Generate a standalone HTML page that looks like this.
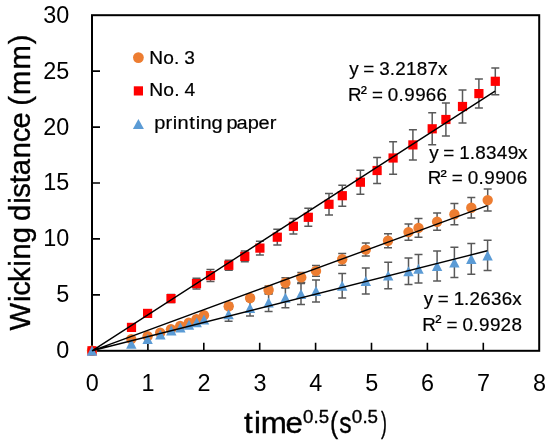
<!DOCTYPE html>
<html><head><meta charset="utf-8"><title>Wicking distance chart</title>
<style>html,body{margin:0;padding:0;background:#fff;}body{width:550px;height:443px;overflow:hidden;}svg{display:block;}</style>
</head><body><svg width="550" height="443" viewBox="0 0 550 443" font-family="'Liberation Sans', Arial, sans-serif" fill="#000"><path d="M147.9 350.8V342.8M203.8 350.8V342.8M259.7 350.8V342.8M315.6 350.8V342.8M371.5 350.8V342.8M427.4 350.8V342.8M483.3 350.8V342.8M92.0 294.9H100.0M92.0 238.9H100.0M92.0 183.0H100.0M92.0 127.1H100.0M92.0 71.1H100.0" stroke="#000" stroke-width="1.6" fill="none"/><rect x="92.0" y="15.2" width="447.2" height="335.6" fill="none" stroke="#000" stroke-width="2"/><path d="M228.7 303.2V309.2M224.7 303.2h8.0M224.7 309.2h8.0M250.1 295.0V301.0M246.1 295.0h8.0M246.1 301.0h8.0M268.6 286.0V294.0M264.6 286.0h8.0M264.6 294.0h8.0M285.4 277.8V287.8M281.4 277.8h8.0M281.4 287.8h8.0M301.3 272.4V282.4M297.3 272.4h8.0M297.3 282.4h8.0M316.0 265.6V276.2M312.0 265.6h8.0M312.0 276.2h8.0M342.2 253.5V265.2M338.2 253.5h8.0M338.2 265.2h8.0M365.8 243.1V256.1M361.8 243.1h8.0M361.8 256.1h8.0M388.0 233.8V247.8M384.0 233.8h8.0M384.0 247.8h8.0M408.5 223.9V240.3M404.5 223.9h8.0M404.5 240.3h8.0M418.5 218.6V237.2M414.5 218.6h8.0M414.5 237.2h8.0M437.1 213.1V230.3M433.1 213.1h8.0M433.1 230.3h8.0M454.4 203.6V224.8M450.4 203.6h8.0M450.4 224.8h8.0M471.3 197.5V218.1M467.3 197.5h8.0M467.3 218.1h8.0M487.7 189.1V211.1M483.7 189.1h8.0M483.7 211.1h8.0" stroke="#595959" stroke-width="1.5" fill="none"/><path d="M131.5 324.4V330.4M127.5 324.4h8.0M127.5 330.4h8.0M147.6 310.4V316.4M143.6 310.4h8.0M143.6 316.4h8.0M171.0 294.6V302.6M167.0 294.6h8.0M167.0 302.6h8.0M196.5 278.3V288.9M192.5 278.3h8.0M192.5 288.9h8.0M210.5 269.6V281.6M206.5 269.6h8.0M206.5 281.6h8.0M228.8 260.3V270.3M224.8 260.3h8.0M224.8 270.3h8.0M244.8 251.1V261.7M240.8 251.1h8.0M240.8 261.7h8.0M259.9 241.3V254.9M255.9 241.3h8.0M255.9 254.9h8.0M277.3 229.3V245.1M273.3 229.3h8.0M273.3 245.1h8.0M293.4 218.6V234.0M289.4 218.6h8.0M289.4 234.0h8.0M308.3 208.3V226.3M304.3 208.3h8.0M304.3 226.3h8.0M329.0 193.5V215.1M325.0 193.5h8.0M325.0 215.1h8.0M342.3 185.2V206.2M338.3 185.2h8.0M338.3 206.2h8.0M360.4 170.2V194.2M356.4 170.2h8.0M356.4 194.2h8.0M377.1 157.5V183.5M373.1 157.5h8.0M373.1 183.5h8.0M393.1 141.7V174.3M389.1 141.7h8.0M389.1 174.3h8.0M412.9 129.7V160.1M408.9 129.7h8.0M408.9 160.1h8.0M432.2 112.8V144.8M428.2 112.8h8.0M428.2 144.8h8.0M445.9 103.0V136.0M441.9 103.0h8.0M441.9 136.0h8.0M462.5 90.1V122.9M458.5 90.1h8.0M458.5 122.9h8.0M478.9 79.1V108.1M474.9 79.1h8.0M474.9 108.1h8.0M495.3 67.9V94.7M491.3 67.9h8.0M491.3 94.7h8.0" stroke="#595959" stroke-width="1.5" fill="none"/><path d="M228.6 307.3V321.3M224.6 307.3h8.0M224.6 321.3h8.0M250.0 300.0V316.0M246.0 300.0h8.0M246.0 316.0h8.0M268.6 293.4V311.4M264.6 293.4h8.0M264.6 311.4h8.0M285.4 287.8V307.8M281.4 287.8h8.0M281.4 307.8h8.0M301.0 283.5V304.5M297.0 283.5h8.0M297.0 304.5h8.0M316.0 280.0V302.0M312.0 280.0h8.0M312.0 302.0h8.0M342.2 273.6V298.0M338.2 273.6h8.0M338.2 298.0h8.0M365.8 267.9V293.9M361.8 267.9h8.0M361.8 293.9h8.0M388.2 262.3V288.7M384.2 262.3h8.0M384.2 288.7h8.0M408.5 258.0V284.4M404.5 258.0h8.0M404.5 284.4h8.0M418.5 254.4V283.0M414.5 254.4h8.0M414.5 283.0h8.0M437.1 251.1V281.1M433.1 251.1h8.0M433.1 281.1h8.0M454.4 247.2V277.6M450.4 247.2h8.0M450.4 277.6h8.0M471.3 243.6V274.2M467.3 243.6h8.0M467.3 274.2h8.0M487.6 240.2V270.6M483.6 240.2h8.0M483.6 270.6h8.0" stroke="#595959" stroke-width="1.5" fill="none"/><circle cx="92.0" cy="350.8" r="5.2" fill="#ED7D31"/><circle cx="131.3" cy="339.1" r="5.2" fill="#ED7D31"/><circle cx="147.6" cy="336.2" r="5.2" fill="#ED7D31"/><circle cx="160.2" cy="332.8" r="5.2" fill="#ED7D31"/><circle cx="171.0" cy="329.3" r="5.2" fill="#ED7D31"/><circle cx="180.2" cy="325.9" r="5.2" fill="#ED7D31"/><circle cx="188.8" cy="322.6" r="5.2" fill="#ED7D31"/><circle cx="196.5" cy="319.1" r="5.2" fill="#ED7D31"/><circle cx="204.0" cy="315.2" r="5.2" fill="#ED7D31"/><circle cx="228.7" cy="306.2" r="5.2" fill="#ED7D31"/><circle cx="250.1" cy="298.0" r="5.2" fill="#ED7D31"/><circle cx="268.6" cy="290.0" r="5.2" fill="#ED7D31"/><circle cx="285.4" cy="282.8" r="5.2" fill="#ED7D31"/><circle cx="301.3" cy="277.4" r="5.2" fill="#ED7D31"/><circle cx="316.0" cy="270.9" r="5.2" fill="#ED7D31"/><circle cx="342.2" cy="259.3" r="5.2" fill="#ED7D31"/><circle cx="365.8" cy="249.6" r="5.2" fill="#ED7D31"/><circle cx="388.0" cy="240.8" r="5.2" fill="#ED7D31"/><circle cx="408.5" cy="232.1" r="5.2" fill="#ED7D31"/><circle cx="418.5" cy="227.9" r="5.2" fill="#ED7D31"/><circle cx="437.1" cy="221.7" r="5.2" fill="#ED7D31"/><circle cx="454.4" cy="214.2" r="5.2" fill="#ED7D31"/><circle cx="471.3" cy="207.8" r="5.2" fill="#ED7D31"/><circle cx="487.7" cy="200.1" r="5.2" fill="#ED7D31"/><rect x="87.4" y="346.2" width="9.2" height="9.2" fill="#FF0000"/><rect x="126.9" y="322.8" width="9.2" height="9.2" fill="#FF0000"/><rect x="143.0" y="308.8" width="9.2" height="9.2" fill="#FF0000"/><rect x="166.4" y="294.0" width="9.2" height="9.2" fill="#FF0000"/><rect x="191.9" y="279.0" width="9.2" height="9.2" fill="#FF0000"/><rect x="205.9" y="271.0" width="9.2" height="9.2" fill="#FF0000"/><rect x="224.2" y="260.7" width="9.2" height="9.2" fill="#FF0000"/><rect x="240.2" y="251.8" width="9.2" height="9.2" fill="#FF0000"/><rect x="255.3" y="243.5" width="9.2" height="9.2" fill="#FF0000"/><rect x="272.7" y="232.6" width="9.2" height="9.2" fill="#FF0000"/><rect x="288.8" y="221.7" width="9.2" height="9.2" fill="#FF0000"/><rect x="303.7" y="212.7" width="9.2" height="9.2" fill="#FF0000"/><rect x="324.4" y="199.7" width="9.2" height="9.2" fill="#FF0000"/><rect x="337.7" y="191.1" width="9.2" height="9.2" fill="#FF0000"/><rect x="355.8" y="177.6" width="9.2" height="9.2" fill="#FF0000"/><rect x="372.5" y="165.9" width="9.2" height="9.2" fill="#FF0000"/><rect x="388.5" y="153.4" width="9.2" height="9.2" fill="#FF0000"/><rect x="408.3" y="140.3" width="9.2" height="9.2" fill="#FF0000"/><rect x="427.6" y="124.2" width="9.2" height="9.2" fill="#FF0000"/><rect x="441.3" y="114.9" width="9.2" height="9.2" fill="#FF0000"/><rect x="457.9" y="101.9" width="9.2" height="9.2" fill="#FF0000"/><rect x="474.3" y="89.0" width="9.2" height="9.2" fill="#FF0000"/><rect x="490.7" y="76.7" width="9.2" height="9.2" fill="#FF0000"/><path d="M92.0 345.8L97.2 355.8H86.8Z" fill="#5B9BD5"/><path d="M131.3 338.8L136.5 348.8H126.1Z" fill="#5B9BD5"/><path d="M147.6 333.9L152.8 343.9H142.4Z" fill="#5B9BD5"/><path d="M160.4 329.4L165.6 339.4H155.2Z" fill="#5B9BD5"/><path d="M171.3 325.6L176.5 335.6H166.1Z" fill="#5B9BD5"/><path d="M180.4 322.6L185.6 332.6H175.2Z" fill="#5B9BD5"/><path d="M189.0 319.7L194.2 329.7H183.8Z" fill="#5B9BD5"/><path d="M196.7 317.2L201.9 327.2H191.5Z" fill="#5B9BD5"/><path d="M204.0 314.5L209.2 324.5H198.8Z" fill="#5B9BD5"/><path d="M228.6 309.3L233.8 319.3H223.4Z" fill="#5B9BD5"/><path d="M250.0 303.0L255.2 313.0H244.8Z" fill="#5B9BD5"/><path d="M268.6 297.4L273.8 307.4H263.4Z" fill="#5B9BD5"/><path d="M285.4 292.8L290.6 302.8H280.2Z" fill="#5B9BD5"/><path d="M301.0 289.0L306.2 299.0H295.8Z" fill="#5B9BD5"/><path d="M316.0 286.0L321.2 296.0H310.8Z" fill="#5B9BD5"/><path d="M342.2 280.8L347.4 290.8H337.0Z" fill="#5B9BD5"/><path d="M365.8 275.9L371.0 285.9H360.6Z" fill="#5B9BD5"/><path d="M388.2 270.5L393.4 280.5H383.0Z" fill="#5B9BD5"/><path d="M408.5 266.2L413.7 276.2H403.3Z" fill="#5B9BD5"/><path d="M418.5 263.7L423.7 273.7H413.3Z" fill="#5B9BD5"/><path d="M437.1 261.1L442.3 271.1H431.9Z" fill="#5B9BD5"/><path d="M454.4 257.4L459.6 267.4H449.2Z" fill="#5B9BD5"/><path d="M471.3 253.9L476.5 263.9H466.1Z" fill="#5B9BD5"/><path d="M487.6 250.4L492.8 260.4H482.4Z" fill="#5B9BD5"/><path d="M92.0 350.8L495.1 91.1M92.0 350.8L487.3 205.7M92.0 350.8L487.3 250.8" stroke="#000" stroke-width="1.4" fill="none"/><g font-size="23.4"><text x="92.2" y="391.3" text-anchor="middle">0</text><text x="148.1" y="391.3" text-anchor="middle">1</text><text x="204.0" y="391.3" text-anchor="middle">2</text><text x="259.9" y="391.3" text-anchor="middle">3</text><text x="315.8" y="391.3" text-anchor="middle">4</text><text x="371.7" y="391.3" text-anchor="middle">5</text><text x="427.6" y="391.3" text-anchor="middle">6</text><text x="483.5" y="391.3" text-anchor="middle">7</text><text x="539.4" y="391.3" text-anchor="middle">8</text><text x="69.3" y="358.2" text-anchor="end">0</text><text x="69.3" y="302.3" text-anchor="end">5</text><text x="69.3" y="246.3" text-anchor="end">10</text><text x="69.3" y="190.4" text-anchor="end">15</text><text x="69.3" y="134.5" text-anchor="end">20</text><text x="69.3" y="78.5" text-anchor="end">25</text><text x="69.3" y="22.6" text-anchor="end">30</text></g><circle cx="138.4" cy="57.6" r="5.4" fill="#ED7D31"/><rect x="133.8" y="86.3" width="9.2" height="9.2" fill="#FF0000"/><path d="M138.4 118.9L143.9 129.1H132.9Z" fill="#5B9BD5"/><text x="337.34 346.34 350.97 361.17 366.29 376.45 381.73 392.27 402.47 413.01 422.99" y="75.50 75.50 75.50 75.50 75.50 75.50 75.50 75.50 75.50 75.50 75.50" font-size="18.2" transform="scale(1.0353,1)" stroke="#000" stroke-width="0.2">y = 3.2187x</text><text x="337.90 350.29 356.58 361.29 371.57 376.62 387.00 392.64 403.13 413.35 423.84" y="101.30 99.00 101.30 101.30 101.30 101.30 101.30 101.30 101.30 101.30 101.30" font-size="18.2" transform="scale(1.0298,1)" stroke="#000" stroke-width="0.2">R² = 0.9966</text><text x="413.67 422.67 427.30 437.50 442.65 452.78 458.03 468.56 478.87 489.50 499.32" y="158.60 158.60 158.60 158.60 158.60 158.60 158.60 158.60 158.60 158.60 158.60" font-size="18.2" transform="scale(1.0374,1)" stroke="#000" stroke-width="0.2">y = 1.8349x</text><text x="412.70 425.09 431.39 436.09 446.37 451.42 461.80 467.45 477.94 488.11 498.65" y="184.50 182.20 184.50 184.50 184.50 184.50 184.50 184.50 184.50 184.50 184.50" font-size="18.2" transform="scale(1.0362,1)" stroke="#000" stroke-width="0.2">R² = 0.9906</text><text x="410.57 419.56 424.19 434.40 439.55 449.67 454.95 465.35 475.83 486.12 496.21" y="304.70 304.70 304.70 304.70 304.70 304.70 304.70 304.70 304.70 304.70 304.70" font-size="18.2" transform="scale(1.0321,1)" stroke="#000" stroke-width="0.2">y = 1.2636x</text><text x="408.05 420.46 426.76 431.47 441.76 446.82 457.21 462.87 473.37 483.59 494.07" y="330.70 328.40 330.70 330.70 330.70 330.70 330.70 330.70 330.70 330.70 330.70" font-size="18.2" transform="scale(1.0351,1)" stroke="#000" stroke-width="0.2">R² = 0.9928</text><text x="139.64 152.73 162.93 167.68 172.57" y="63.90 63.90 63.90 63.90 63.90" font-size="17.9" transform="scale(1.0684,1)" stroke="#000" stroke-width="0.2">No. 3</text><text x="138.59 151.64 161.81 166.53 171.33" y="96.40 96.40 96.40 96.40 96.40" font-size="17.9" transform="scale(1.0762,1)" stroke="#000" stroke-width="0.2">No. 4</text><text x="137.84 147.98 154.46 158.69 169.19 175.10 179.33 189.04 197.79 202.53 211.36 221.55 231.15 241.11" y="129.40 129.40 129.40 129.40 129.40 129.40 129.40 129.40 129.40 129.40 129.40 129.40 129.40 129.40" font-size="17.9" transform="scale(1.1184,1)" stroke="#000" stroke-width="0.2">printing paper</text><text x="225.93 235.13 241.49 264.45" y="432.70 432.70 432.70 432.70" font-size="29" transform="scale(1.0799,1)" stroke="#000" stroke-width="0.35">time</text><text x="305.74 316.25 321.43" y="423.50 423.50 423.50" font-size="18.8" transform="scale(0.9914,1)" stroke="#000" stroke-width="0.35">0.5</text><text x="386.49 397.19" y="432.70 432.70" font-size="29" transform="scale(0.8540,1)" stroke="#000" stroke-width="0.35">(s</text><text x="351.87 362.38 367.56" y="423.40 423.40 423.40" font-size="18.8" stroke="#000" stroke-width="0.35">0.5</text><text x="623.13" y="432.70" font-size="29" transform="scale(0.6113,1)" stroke="#000" stroke-width="0.35">)</text><g transform="rotate(-90)"><text x="-331.71 -303.25 -296.88 -283.05 -267.85 -260.56 -244.18 -229.51 -221.79 -204.63 -198.63 -184.02 -175.91 -158.80 -142.92 -128.98 -113.37 -106.17 -95.31 -69.76 -44.48" y="29.70 29.70 29.70 29.70 29.70 29.70 29.70 29.70 29.70 29.70 29.70 29.70 29.70 29.70 29.70 29.70 29.70 29.70 29.70 29.70 29.70" font-size="29.3" transform="scale(0.9961,1)" stroke="#000" stroke-width="0.35">Wicking distance (mm)</text></g></svg></body></html>
